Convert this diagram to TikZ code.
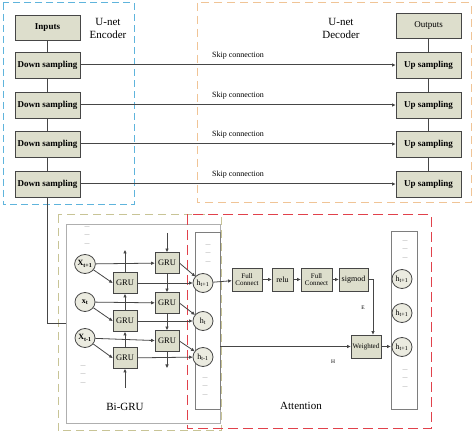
\documentclass[tikz,border=0pt]{standalone}
\usepackage{fontspec}
\setmainfont{Liberation Serif}
\usetikzlibrary{arrows.meta,shapes.geometric}
\definecolor{boxKhaki}{RGB}{221,222,204}
\definecolor{edgeGray}{RGB}{70,70,70}
\definecolor{encBlue}{RGB}{95,180,220}
\definecolor{decOrange}{RGB}{240,196,150}
\definecolor{gruKhaki}{RGB}{200,196,150}
\definecolor{attRed}{RGB}{225,65,75}
\definecolor{paneGray}{RGB}{175,175,175}

\begin{document}
\begin{tikzpicture}[x=1pt,y=-1pt]
\tikzstyle{every node}=[text=black]
\tikzstyle{blk}=[draw=edgeGray, fill=boxKhaki, line width=0.8pt, minimum width=65pt, minimum height=26pt, inner sep=0pt, font=\fontsize{9}{10}\selectfont]
\tikzstyle{gru}=[draw=edgeGray, fill=boxKhaki, line width=0.8pt, minimum width=24pt, minimum height=21pt, inner sep=0pt, font=\fontsize{8.5}{9}\selectfont]
\tikzstyle{att}=[draw=edgeGray, fill=boxKhaki, line width=0.8pt, minimum height=23pt, inner sep=0pt, align=center, font=\fontsize{7}{7.5}\selectfont]
\tikzstyle{cell}=[ellipse, draw=edgeGray, fill=boxKhaki!60!white, line width=0.8pt, minimum width=20pt, minimum height=19pt, inner sep=0pt, font=\fontsize{8}{9}\selectfont]
\tikzstyle{col}=[draw=paneGray, line width=0.8pt, inner sep=0pt]
\tikzstyle{dots}=[text=edgeGray!80, align=center, inner sep=0pt, font=\fontsize{5}{8.5}\selectfont]
\tikzstyle{link}=[draw=edgeGray, line width=0.8pt]
\tikzstyle{arr}=[link, -{Triangle[length=3.5pt,width=3pt]}]

  \fill[white] (0,0) rectangle (474,435);
  \useasboundingbox (0,0) rectangle (474,435);

  % U-net frames
  \draw[encBlue, line width=1pt, dash pattern=on 7pt off 4pt] (3,3) rectangle (134,205);
  \draw[decOrange, line width=1pt, dash pattern=on 8pt off 5pt] (197,3) rectangle (471,203);

  \node[blk, minimum height=25pt] (inputs) at (47.5,27.5) {\textbf{Inputs}};
  \node[blk] (down1) at (47.5,65) {\textbf{Down sampling}};
  \node[blk] (down2) at (47.5,105) {\textbf{Down sampling}};
  \node[blk] (down3) at (47.5,144) {\textbf{Down sampling}};
  \node[blk] (down4) at (47.5,184) {\textbf{Down sampling}};

  \node[blk, minimum height=25pt] (outputs) at (428.5,25.5) {Outputs};
  \node[blk] (up1) at (428.5,65) {\textbf{Up sampling}};
  \node[blk] (up2) at (428.5,105) {\textbf{Up sampling}};
  \node[blk] (up3) at (428.5,144) {\textbf{Up sampling}};
  \node[blk] (up4) at (428.5,184) {\textbf{Up sampling}};

  \node[align=center, font=\fontsize{11}{13}\selectfont] (enc) at (108,28) {U-net\\Encoder};
  \node[align=center, font=\fontsize{11}{13}\selectfont] (dec) at (341,28) {U-net\\Decoder};

  \draw[link] (inputs) -- (down1) -- (down2) -- (down3) -- (down4);
  \draw[link] (outputs) -- (up1) -- (up2) -- (up3) -- (up4);

  \draw[arr, line width=1pt] (down1) -- node[above=2pt, font=\fontsize{8}{9}\selectfont] {Skip connection} (up1);
  \draw[arr, line width=1pt] (down2) -- node[above=2pt, font=\fontsize{8}{9}\selectfont] {Skip connection} (up2);
  \draw[arr, line width=1pt] (down3) -- node[above=2pt, font=\fontsize{8}{9}\selectfont] {Skip connection} (up3);
  \draw[arr, line width=1pt] (down4) -- node[above=2pt, font=\fontsize{8}{9}\selectfont] {Skip connection} (up4);

  % Bi-GRU and attention frames
  \draw[gruKhaki, line width=1pt, dash pattern=on 8pt off 5pt] (58,215) rectangle (221,431);
  \node[col, minimum width=154pt, minimum height=199pt] (bigru) at (143,323.5) {};
  \draw[attRed, line width=1pt, dash pattern=on 10pt off 5pt] (187,215) rectangle (431,429);
  \node[col, draw=edgeGray!70, minimum width=25pt, minimum height=177pt] (hcol) at (207.5,320.5) {};
  \node[col, draw=edgeGray!70, minimum width=26pt, minimum height=178pt] (outcol) at (404,320) {};

  \draw[link] (down4.south) |- (bigru.west);

  % inputs
  \node[cell] (xa) at (85,264) {\textbf{X\textsubscript{t+1}}};
  \node[cell] (xb) at (85,302) {\textbf{x\textsubscript{t}}};
  \node[cell] (xc) at (85,338) {\textbf{X\textsubscript{t-1}}};

  % forward and backward GRUs
  \node[gru] (ga) at (125,283) {GRU};
  \node[gru] (gb) at (125,321) {GRU};
  \node[gru] (gc) at (125,358) {GRU};
  \node[gru] (gd) at (167,263) {GRU};
  \node[gru] (ge) at (167,303) {GRU};
  \node[gru] (gf) at (167,341) {GRU};

  % hidden states
  \node[cell] (ha) at (203,283) {h\textsubscript{t+1}};
  \node[cell] (hb) at (203,321) {h\textsubscript{t}};
  \node[cell] (hc) at (203,357) {h\textsubscript{t-1}};

  \coordinate (fwdin) at (125,388);
  \coordinate (fwdout) at (125,250);
  \coordinate (bwdin) at (167,233);
  \coordinate (bwdout) at (167,368);
  \draw[arr] (fwdin) -- (gc);
  \draw[arr] (gc) -- (gb);
  \draw[arr] (gb) -- (ga);
  \draw[arr] (ga) -- (fwdout);
  \draw[arr] (bwdin) -- (gd);
  \draw[arr] (gd) -- (ge);
  \draw[arr] (ge) -- (gf);
  \draw[arr] (gf) -- (bwdout);

  \draw[arr] (xa) -- (gd);
  \draw[arr] (xb) -- (ge);
  \draw[arr] (xc) -- (gf);
  \draw[arr] (xa) -- (ga.west);
  \draw[arr] (xb) -- (gb.west);
  \draw[arr] (xc) -- (gc.west);

  \draw[arr] (ga) -- (ha);
  \draw[arr] (gb) -- (hb);
  \draw[arr] (gc) -- (hc);
  \draw[arr] (gd.east) -- (ha);
  \draw[arr] (ge.east) -- (hb);
  \draw[arr] (gf.east) -- (hc);

  \node[dots] (xtop) at (87,236) {---\\---\\---};
  \node[dots] (xbot) at (83,375) {---\\---\\---};
  \node[dots] (htop) at (208,254) {---\\---\\---};
  \node[dots] (hbot) at (205,387) {---\\---\\---};
  \node[dots] (otop) at (405,250) {---\\---\\---};
  \node[dots] (obot) at (405,379) {---\\---\\---};

  % attention
  \node[att, minimum width=30pt] (fc1) at (247,279.5) {Full\\Connect};
  \node[att, minimum width=21pt, font=\fontsize{8}{8}\selectfont] (relu) at (282.5,279.5) {relu};
  \node[att, minimum width=31pt] (fc2) at (316.5,279.5) {Full\\Connect};
  \node[att, minimum width=29pt, font=\fontsize{8}{8}\selectfont] (sig) at (353.5,279.5) {sigmod};
  \node[att, minimum width=30pt, font=\fontsize{7}{7}\selectfont] (wtd) at (366,346.5) {Weighted};

  \draw[arr] (ha) -- (fc1);
  \draw[arr] (fc1) -- (relu);
  \draw[arr] (relu) -- (fc2);
  \draw[arr] (fc2) -- (sig);
  \draw[arr] (sig.east) -| ([xshift=7pt]wtd.north);
  \draw[arr] (hcol.east |- wtd.west) -- (wtd.west);
  \draw[arr] (wtd.east) -- (outcol.west |- wtd.east);

  \node[font=\fontsize{5.5}{6}\selectfont] (elabel) at (363,308) {E};
  \node[font=\fontsize{5.5}{6}\selectfont] (hlabel) at (333,362) {H};

  \node[cell] (oa) at (402,279) {h\textsubscript{t+1}};
  \node[cell] (ob) at (402,313) {h\textsubscript{t+1}};
  \node[cell] (oc) at (402,347) {h\textsubscript{t+1}};

  \node[font=\fontsize{11}{13}\selectfont] (grutitle) at (125,407) {Bi-GRU};
  \node[font=\fontsize{11}{13}\selectfont] (atttitle) at (301,406) {Attention};

\end{tikzpicture}
\end{document}
